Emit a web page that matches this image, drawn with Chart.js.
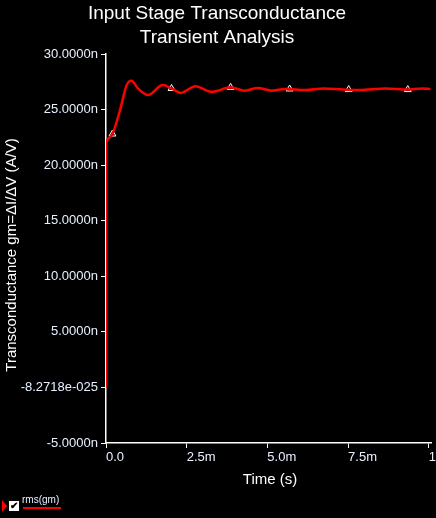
<!DOCTYPE html>
<html>
<head>
<meta charset="utf-8">
<script src="https://cdn.jsdelivr.net/npm/chart.js@4.4.0/dist/chart.umd.min.js"></script>
<style>
  body { margin: 0; background: #000; }
  #wrap { position: relative; width: 436px; height: 518px; }
  #legend { position: absolute; left: 0; top: 494px; font: 10px "Liberation Sans", Arial, sans-serif; color: #e8f0ff; }
  #legend .arrow { position: absolute; left: 2px; top: 6px; width: 0; height: 0; border-top: 6px solid transparent; border-bottom: 6px solid transparent; border-left: 5px solid #f00; }
  #legend .box { position: absolute; left: 9px; top: 7px; width: 10px; height: 10px; background: #fff; color: #000; font: bold 10px sans-serif; line-height: 10px; text-align: center; }
  #legend .lbl { position: absolute; left: 22px; top: 0px; white-space: nowrap; }
  #legend .line { position: absolute; left: 23px; top: 13px; width: 38px; height: 2px; background: #f00; }
</style>
</head>
<body>
<div id="wrap">
  <canvas id="chart" width="436" height="518"></canvas>
  <div id="legend"><div class="arrow"></div><div class="box">✔</div><div class="lbl">rms(gm)</div><div class="line"></div></div>
</div>
<script>
// data (time in ms, gm in nA/V)
const times = [0, 0.0, 0.03, 0.2, 0.44, 0.64, 0.79, 0.99, 1.30, 1.76, 2.03, 2.32, 2.77, 3.28, 3.86, 4.30, 4.70, 5.14, 5.55, 6.18, 6.74, 7.35, 7.85, 8.67, 9.33, 9.79, 10.05];
const gm = [0, 21.9, 22.2, 22.8, 25.0, 27.2, 27.6, 26.9, 26.3, 27.2, 26.9, 26.5, 27.1, 26.6, 27.0, 26.7, 26.95, 26.7, 26.85, 26.75, 26.9, 26.8, 26.75, 26.9, 26.8, 26.9, 26.85];
const markerTimes = [0.2, 2.03, 3.86, 5.69, 7.52, 9.35];
const markerValues = [22.8, 26.9, 27.0, 26.85, 26.8, 26.8];
const xTicks = [0, 2.5, 5, 7.5, 10];
const xTickLabels = ['0.0', '2.5m', '5.0m', '7.5m', '10.0m'];
const yTicks = [-5, 0, 5, 10, 15, 20, 25, 30];
const yTickLabels = ['-5.0000n', '-8.2718e-025', '5.0000n', '10.0000n', '15.0000n', '20.0000n', '25.0000n', '30.0000n'];

const FONT = '"Liberation Sans", Arial, sans-serif';
const TXT = '#e8f0ff';

const titles = {
    id: 'titles',
    afterDraw(chart) {
        const c = chart.ctx;
        c.save();
        c.fillStyle = '#fff';
        c.textAlign = 'center';
        c.textBaseline = 'middle';
        c.font = '19px ' + FONT;
        c.fillText('Input Stage Transconductance', 217, 14);
        c.fillText('Transient Analysis', 217, 38);
        c.font = '15px ' + FONT;
        c.fillText('Time (s)', 270, 480);
        c.translate(12, 255);
        c.rotate(-Math.PI / 2);
        c.fillText('Transconductance gm=\u0394I/\u0394V (A/V)', 0, 0);
        c.restore();
    }
};

const ctx = document.getElementById('chart');
const chart = new Chart(ctx, {
    type: 'line',
    data: {
        datasets: [{
            data: times.map((t, i) => ({x: t, y: gm[i]})),
            borderColor: '#ff0000',
            borderWidth: 2.5,
            pointRadius: 0,
            cubicInterpolationMode: 'monotone'
        }, {
            data: markerTimes.map((t, i) => ({x: t, y: markerValues[i]})),
            showLine: false,
            pointStyle: 'triangle',
            pointRadius: 4,
            pointBorderWidth: 1,
            pointBorderColor: '#fff',
            pointBackgroundColor: 'rgba(0,0,0,0)'
        }]
    },
    options: {
        responsive: false,
        animation: false,
        layout: { padding: { top: 54, left: 0, right: 0, bottom: 0 } },
        plugins: { legend: { display: false }, tooltip: { enabled: false } },
        scales: {
            x: {
                type: 'linear',
                min: 0, max: 10.07,
                afterFit: s => { s.height = 75; s.paddingLeft = 0; s.paddingRight = 0; },
                afterBuildTicks: s => { s.ticks = xTicks.map(v => ({value: v})); },
                ticks: {
                    color: TXT, font: { family: FONT, size: 13 }, align: 'start', padding: 2,
                    maxRotation: 0,
                    callback: v => xTickLabels[xTicks.indexOf(v)]
                },
                grid: { drawOnChartArea: false, color: '#fff', tickLength: 5 },
                border: { color: '#fff', width: 1.5 }
            },
            y: {
                min: -5, max: 30,
                afterFit: s => { s.width = 106; s.paddingTop = 0; s.paddingBottom = 0; },
                afterBuildTicks: s => { s.ticks = yTicks.map(v => ({value: v})); },
                ticks: {
                    color: TXT, font: { family: FONT, size: 13 }, padding: 3,
                    callback: v => yTickLabels[yTicks.indexOf(v)]
                },
                grid: { drawOnChartArea: false, color: '#fff', tickLength: 5 },
                border: { color: '#fff', width: 1.5 }
            }
        }
    },
    plugins: [titles]
});
</script>
</body>
</html>
